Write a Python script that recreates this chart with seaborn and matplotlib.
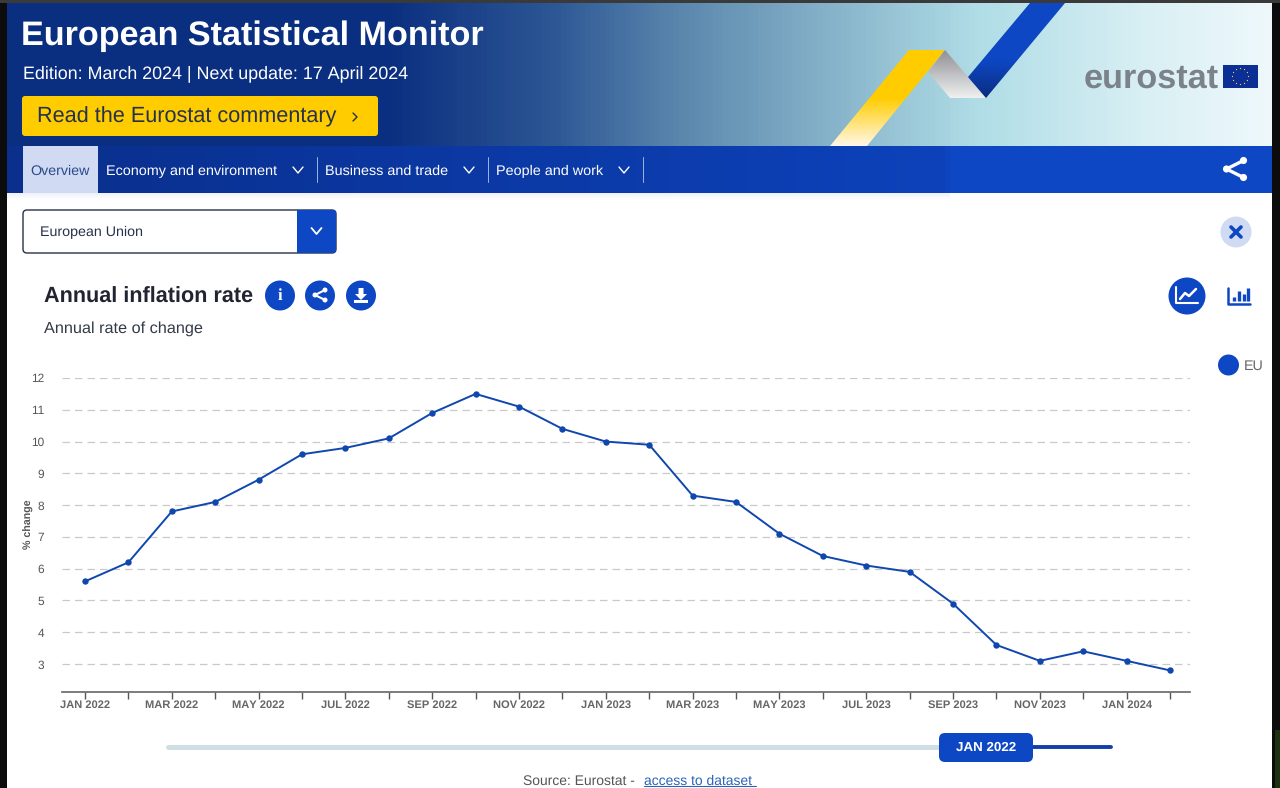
#! /usr/bin/python3
import matplotlib
matplotlib.use('Agg')
import matplotlib.pyplot as plt
import numpy as np
import pandas as pd
import seaborn as sns
from matplotlib.colors import LinearSegmentedColormap
from matplotlib.patches import Circle, FancyBboxPatch, Polygon, Rectangle

# data
months = ['JAN 2022', 'FEB 2022', 'MAR 2022', 'APR 2022', 'MAY 2022', 'JUN 2022', 'JUL 2022',
          'AUG 2022', 'SEP 2022', 'OCT 2022', 'NOV 2022', 'DEC 2022', 'JAN 2023', 'FEB 2023',
          'MAR 2023', 'APR 2023', 'MAY 2023', 'JUN 2023', 'JUL 2023', 'AUG 2023', 'SEP 2023',
          'OCT 2023', 'NOV 2023', 'DEC 2023', 'JAN 2024', 'FEB 2024']
inflation = [5.6, 6.2, 7.8, 8.1, 8.8, 9.6, 9.8, 10.1, 10.9, 11.5, 11.1, 10.4, 10.0, 9.9,
             8.3, 8.1, 7.1, 6.4, 6.1, 5.9, 4.9, 3.6, 3.1, 3.4, 3.1, 2.8]
y_ticks = [3, 4, 5, 6, 7, 8, 9, 10, 11, 12]
nav_items = ['Economy and environment', 'Business and trade', 'People and work']

BLUE = '#0e47c4'
LINE_BLUE = '#0f47af'
INK = '#26324b'

sns.set_theme(style='white')
plt.rcParams['font.family'] = ['Liberation Sans', 'DejaVu Sans']
plt.rcParams['text.kerning_factor'] = 6
plt.rcParams['text.hinting'] = 'no_hinting'

W, H = 1280, 788
fig = plt.figure(figsize=(W / 100, H / 100), dpi=100, facecolor='#0c0c0c')

# page furniture, drawn in pixel coordinates
bg = fig.add_axes([0, 0, 1, 1], zorder=0)
bg.axis('off')


def gradient(x0, x1, y0, y1, colors, vertical=False, clip=None, z=1):
    cmap = LinearSegmentedColormap.from_list('g', colors)
    ramp = np.linspace(0, 1, 256)
    ramp = ramp[:, None] if vertical else ramp[None, :]
    im = bg.imshow(ramp, cmap=cmap, extent=(x0, x1, y1, y0), aspect='auto',
                   origin='upper', zorder=z, interpolation='bilinear')
    if clip is not None:
        patch = Polygon(clip, closed=True, transform=bg.transData, fc='none', ec='none')
        bg.add_patch(patch)
        im.set_clip_path(patch)


def rbox(x0, y0, x1, y1, r, fc, ec='none', lw=0, z=3):
    bg.add_patch(FancyBboxPatch((x0, y0), x1 - x0, y1 - y0, boxstyle=f'round,pad=0,rounding_size={r}',
                                fc=fc, ec=ec, lw=lw, zorder=z))


def chevron(x, y, w=5, h=3, color='white', lw=1.0):
    bg.plot([x - w, x, x + w], [y - h, y + h, y - h], color=color, lw=lw, zorder=5,
            solid_capstyle='round')


def share_icon(x, y, s, color='white', lw=1.4, r=0.3):
    pts = [(x + s, y - s), (x - s, y), (x + s, y + s)]
    bg.plot([p[0] for p in pts], [p[1] for p in pts], color=color, lw=lw, zorder=6)
    for p in pts:
        bg.add_patch(Circle(p, s * r, fc=color, ec='none', zorder=6))


# browser edges and white page
bg.add_patch(Rectangle((0, 0), W, 3, fc='#3a3a3a', ec='none', zorder=0))
bg.add_patch(Rectangle((1275, 730), 5, 58, fc='#1d3010', ec='none', zorder=0))
bg.add_patch(Rectangle((7, 3), 1265, H, fc='white', ec='none', zorder=0.5))

# banner
gradient(7, 1272, 3, 146, [(0, '#0b2f80'), (0.3, '#0b2f80'), (0.43, '#2c5694'), (0.53, '#5a86ad'),
                           (0.64, '#82aec7'), (0.77, '#b0dde6'), (0.9, '#d8eff4'), (1, '#eef8fb')])
gradient(830, 945, 50, 146, [(0, '#ffcc00'), (0.5, '#ffcc00'), (1, '#fff8e8')], vertical=True,
         clip=[(830, 146), (867, 146), (945, 50), (909, 50)], z=2)
gradient(928, 986, 50, 98, ['#8f9094', '#f0f0f0'], vertical=True,
         clip=[(945, 50), (928, 72), (950, 98), (986, 98)], z=2)
gradient(968, 1065, 3, 98, [(0, BLUE), (0.6, BLUE), (1, '#0a2c80')], vertical=True,
         clip=[(968, 77), (986, 98), (1065, 3), (1030, 3)], z=2)

bg.text(21, 36.5, 'European Statistical Monitor', color='white', fontsize=24.6, fontweight='bold',
        va='center', zorder=5)
bg.text(23, 74, 'Edition: March 2024 | Next update: 17 April 2024', color='white', fontsize=12.9,
        va='center', zorder=5)
rbox(22, 96, 378, 136, 3, '#ffcc00')
bg.text(37, 117, 'Read the Eurostat commentary', color=INK, fontsize=15.6, va='center', zorder=5)
bg.plot([353, 357, 353], [113, 117, 121], color=INK, lw=1, zorder=5)

# logo
bg.text(1084, 79, 'eurostat', color='#7b8289', fontsize=24.7, fontweight='bold', va='center', zorder=5)
bg.add_patch(Rectangle((1223, 65), 35, 23, fc='#0b2f94', ec='none', zorder=5))
for a in np.arange(0, 360, 30):
    bg.add_patch(Circle((1240.5 + 8 * np.cos(np.radians(a)), 76.5 + 8 * np.sin(np.radians(a))), 0.6,
                        fc='#ffd84a', ec='none', zorder=6))

# nav bar
gradient(7, 1272, 146, 193, [(0, '#0a2f8c'), (0.744, '#0d42bb'), (0.746, BLUE), (1, BLUE)], z=2)
gradient(7, 950, 193, 200, ['#eef2fa', '#ffffff'], vertical=True, z=1)
bg.add_patch(Rectangle((23, 146), 75, 47, fc='#d0dbf3', ec='none', zorder=3))
bg.text(60.5, 171, 'Overview', color='#2d4a8a', fontsize=10.3, ha='center', va='center', zorder=5)
for label, tx, cx, dx in zip(nav_items, [106, 325, 496], [298, 469, 624], [317, 488, 643]):
    bg.text(tx, 171, label, color='white', fontsize=10.4, va='center', zorder=5)
    chevron(cx, 170)
    bg.plot([dx, dx], [157, 182], color='#9fb4e0', lw=0.7, zorder=5)
share_icon(1235, 169, 8.5, lw=2.4, r=0.42)

# country selector
rbox(23, 210, 336, 253, 4, 'white', ec=INK, lw=1)
rbox(297, 210, 336, 253, 3, BLUE, z=3.5)
bg.add_patch(Rectangle((297, 210), 10, 43, fc=BLUE, ec='none', zorder=3.6))
bg.text(40, 232, 'European Union', color=INK, fontsize=10.3, va='center', zorder=5)
chevron(316.5, 231, w=5, h=3, lw=1.3)

# close button
bg.add_patch(Circle((1236, 232), 15.5, fc='#d0dbf3', ec='none', zorder=3))
bg.plot([1231, 1241], [227, 237], color=BLUE, lw=2.6, zorder=5)
bg.plot([1231, 1241], [237, 227], color=BLUE, lw=2.6, zorder=5)

# chart heading and icons
bg.text(44, 297, 'Annual inflation rate', color='#202531', fontsize=15.6, fontweight='bold',
        va='center', zorder=5)
bg.text(44, 329, 'Annual rate of change', color='#333a48', fontsize=11.7, va='center', zorder=5)
for cx in [280, 320, 361]:
    bg.add_patch(Circle((cx, 295.5), 15, fc=BLUE, ec='none', zorder=3))
bg.text(280, 296, 'i', color='white', fontsize=12, fontweight='bold', ha='center', va='center',
        family='Liberation Serif', zorder=5)
share_icon(320, 295, 5, lw=1.5, r=0.5)
bg.add_patch(Polygon([(358.5, 288), (363.5, 288), (363.5, 294), (367, 294), (361, 300), (355, 294), (358.5, 294)],
                     fc='white', ec='none', zorder=5))
bg.add_patch(Rectangle((354, 300), 14, 3, fc='white', ec='none', zorder=5))

# line / bar switch
bg.add_patch(Circle((1187, 296), 18.5, fc=BLUE, ec='none', zorder=3))
bg.plot([1176, 1176, 1198], [287, 303, 303], color='white', lw=1.5, zorder=5)
bg.plot([1180, 1185, 1189, 1196], [299, 293, 296, 289], color='white', lw=1.8, zorder=5)
bg.plot([1228, 1228, 1250], [288, 304, 304], color=BLUE, lw=1.8, zorder=5)
for bx, top in zip([1233.5, 1238.5, 1243.5, 1248], [297, 291, 294, 288]):
    bg.plot([bx, bx], [top, 301], color=BLUE, lw=2.4, solid_capstyle='butt', zorder=5)

# legend dot
bg.add_patch(Circle((1228.5, 365), 10.5, fc=BLUE, ec='none', zorder=3))
bg.text(1244, 366, 'EU', color='#666666', fontsize=10.3, va='center', zorder=5)

# time slider
bg.plot([168, 945], [747, 747], color='#d0dfe5', lw=3.6, solid_capstyle='round', zorder=2)
bg.plot([1030, 1111], [747, 747], color='#1240a8', lw=2.8, solid_capstyle='round', zorder=2)
rbox(939, 733, 1033, 762, 6, BLUE)
bg.text(986, 748, 'JAN 2022', color='white', fontsize=9.6, fontweight='bold', ha='center', va='center', zorder=5)

# source line
bg.text(523, 781, 'Source: Eurostat - ', color='#555555', fontsize=10, va='center', zorder=5)
bg.text(644, 781, 'access to dataset', color='#2a63b8', fontsize=10, va='center', zorder=5)
bg.plot([644, 756], [786, 786], color='#2a63b8', lw=0.8, zorder=5)

bg.set_xlim(0, W)
bg.set_ylim(H, 0)

# line chart
df = pd.DataFrame({'month': months, 'inflation': inflation})
ax = fig.add_axes([62 / W, 1 - 692 / H, (1190 - 62) / W, (692 - 378) / H], zorder=2)
ax.patch.set_alpha(0)
sns.lineplot(data=df, x='month', y='inflation', sort=False, color=LINE_BLUE, linewidth=1.4,
             marker='o', markersize=4.6, markeredgewidth=0, ax=ax, zorder=3, clip_on=False)
ax.set_xlim(-0.53, 25.46)
ax.set_ylim(2.12, 12)
ax.set_yticks(y_ticks)
ax.set_xticks(range(len(months)))
ax.set_xticklabels([m if i % 2 == 0 else '' for i, m in enumerate(months)])
ax.grid(axis='y', color='#c9c9c9', linestyle=(0, (6, 4)), linewidth=0.9)
ax.set_axisbelow(True)
sns.despine(ax=ax, left=True)
ax.spines['bottom'].set_color('#666666')
ax.spines['bottom'].set_linewidth(1.2)
ax.tick_params(axis='x', bottom=True, length=5, width=1, color='#555555', pad=1, labelsize=8.0, labelcolor='#666666')
ax.tick_params(axis='y', left=False, pad=7, labelsize=8.6, labelcolor='#555555')
for label in ax.get_xticklabels():
    label.set_fontweight('bold')
ax.set_xlabel('')
ax.set_ylabel('')
fig.text(29 / W, 1 - 524 / H, '% change', rotation=90, ha='center', va='center', fontsize=7.7,
         fontweight='bold', color='#555555')

plt.savefig('out.png', dpi=100, facecolor=fig.get_facecolor())
